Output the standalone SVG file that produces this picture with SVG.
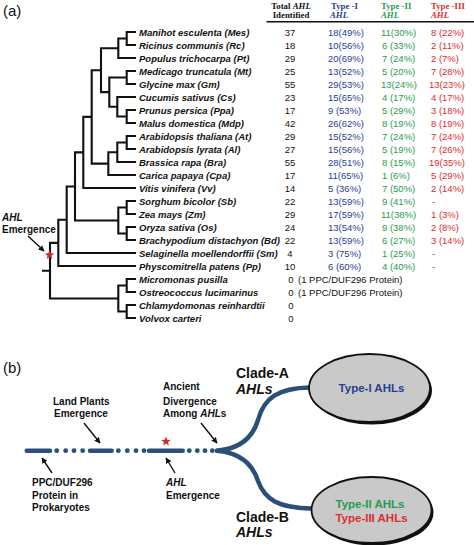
<svg xmlns="http://www.w3.org/2000/svg" width="474" height="545" viewBox="0 0 474 545">
<defs>
<style>
.sp{font-family:"Liberation Sans",Arial,sans-serif;font-size:9.5px;font-weight:bold;font-style:italic;fill:#111}
.v{font-family:"Liberation Sans",Arial,sans-serif;font-size:9.5px;fill:#111}
.tot{text-anchor:middle}
.b{fill:#2b3d8f}.g{fill:#1f9e4b}.r{fill:#dc2e2e}
.hd{font-family:"Liberation Serif","Times New Roman",serif;font-size:8.8px;font-weight:bold}
.it{font-style:italic}
.tree{fill:none;stroke:#111;stroke-width:2.1;stroke-linecap:square}
.lab{font-family:"Liberation Sans",Arial,sans-serif;font-size:10px;font-weight:bold;fill:#111}
.clade{font-family:"Liberation Sans",Arial,sans-serif;font-size:14px;font-weight:bold;fill:#111}
.ell{font-family:"Liberation Sans",Arial,sans-serif;font-size:11.5px;font-weight:bold;text-anchor:middle}
.pipe{fill:none;stroke:#2a4f78;stroke-width:4.5;stroke-linecap:round}
.arr{stroke:#111;stroke-width:1.4;fill:none}
.panel{font-family:"Liberation Sans",Arial,sans-serif;font-size:15px;fill:#111}
</style>
<marker id="ah" viewBox="0 0 10 10" refX="9" refY="5" markerWidth="6" markerHeight="6" orient="auto" markerUnits="userSpaceOnUse">
<path d="M0,0 L10,5 L0,10 z" fill="#111"/>
</marker>
<path id="star" d="M0,-5 L1.23,-1.7 L4.76,-1.55 L2,0.65 L2.94,4.05 L0,2.1 L-2.94,4.05 L-2,0.65 L-4.76,-1.55 L-1.23,-1.7 Z" fill="#d42a2a"/>
</defs>
<rect width="474" height="545" fill="#fff"/>

<text class="panel" x="3" y="16">(a)</text>

<g id="header">
<text class="hd" x="291" y="8.5" text-anchor="middle" fill="#111">Total <tspan class="it">AHL</tspan></text>
<text class="hd" x="291" y="17.5" text-anchor="middle" fill="#111">Identified</text>
<text class="hd b" x="331" y="8.5">Type -I</text>
<text class="hd b it" x="330" y="17.5">AHL</text>
<text class="hd g" x="381" y="8.5">Type -II</text>
<text class="hd g it" x="381" y="17.5">AHL</text>
<text class="hd r" x="431" y="8.5">Type -III</text>
<text class="hd r it" x="431" y="17.5">AHL</text>
<line x1="266.5" y1="21.7" x2="474" y2="21.7" stroke="#111" stroke-width="1.6"/>
</g>

<g id="tree-branches" class="tree-connectors">
<path class="tree" d="
M126.7,32 H135 M126.7,45 H135 M126.7,32 V45 M118.3,38.5 H126.7
M118.3,58 H135 M118.3,38.5 V58 M101,48.25 H118.3
M126.7,71 H135 M126.7,84 H135 M126.7,71 V84 M109.3,77.5 H126.7
M117.3,97 H135 M126.7,110 H135 M126.7,123 H135 M126.7,110 V123 M117.3,116.5 H126.7
M117.3,97 V116.5 M109.3,106.75 H117.3
M109.3,77.5 V106.75 M101,92.1 H109.3
M101,48.25 V92.1 M91.7,70.2 H101
M126.7,136 H135 M126.7,149 H135 M126.7,136 V149 M117.3,142.5 H126.7
M117.3,162 H135 M117.3,142.5 V162 M108.3,152.25 H117.3
M108.3,175 H135 M108.3,152.25 V175 M91.7,163.6 H108.3
M91.7,70.2 V163.6 M83.3,116.9 H91.7
M83.3,188 H135 M83.3,116.9 V188 M75,152.4 H83.3
M126.7,201 H135 M126.7,214 H135 M126.7,201 V214 M118.3,207.5 H126.7
M126.7,227 H135 M126.7,240 H135 M126.7,227 V240 M118.3,233.5 H126.7
M118.3,207.5 V233.5 M75,220.5 H118.3
M75,152.4 V220.5 M66.7,186.5 H75
M66.7,253 H135 M66.7,186.5 V253 M58.3,219.7 H66.7
M58.3,266 H135 M58.3,219.7 V266 M50,242.9 H58.3
M126.7,279 H135 M126.7,292 H135 M126.7,279 V292 M118.3,285.5 H126.7
M126.7,305 H135 M126.7,318 H135 M126.7,305 V318 M118.3,311.5 H126.7
M118.3,285.5 V311.5 M50,298.5 H118.3
M50,242.9 V298.5 M43,270.7 H50"/>
<line class="arr" x1="28" y1="236" x2="44" y2="251" marker-end="url(#ah)"/>
</g>

<g id="ahl-emergence-tree">
<text class="lab it" x="2" y="220.5">AHL</text>
<text class="lab" x="2" y="233">Emergence</text>
<use href="#star" x="49.5" y="255"/>
</g>

<g id="rows">
<g id="row-mes"><text class="sp" x="139" y="35.5">Manihot esculenta (Mes)</text><text class="v tot" x="290" y="35.5">37</text><text class="v b" x="328" y="35.5">18(49%)</text><text class="v g" x="381" y="35.5">11(30%)</text><text class="v r" x="431" y="35.5">8 (22%)</text></g>
<g id="row-rc"><text class="sp" x="139" y="48.5">Ricinus communis (Rc)</text><text class="v tot" x="290" y="48.5">18</text><text class="v b" x="328" y="48.5">10(56%)</text><text class="v g" x="382" y="48.5">6 (33%)</text><text class="v r" x="431" y="48.5">2 (11%)</text></g>
<g id="row-pt"><text class="sp" x="139" y="61.5">Populus trichocarpa (Pt)</text><text class="v tot" x="290" y="61.5">29</text><text class="v b" x="328" y="61.5">20(69%)</text><text class="v g" x="382" y="61.5">7 (24%)</text><text class="v r" x="431" y="61.5">2 (7%)</text></g>
<g id="row-mt"><text class="sp" x="139" y="74.5">Medicago truncatula (Mt)</text><text class="v tot" x="290" y="74.5">25</text><text class="v b" x="328" y="74.5">13(52%)</text><text class="v g" x="382" y="74.5">5 (20%)</text><text class="v r" x="431" y="74.5">7 (28%)</text></g>
<g id="row-gm"><text class="sp" x="139" y="87.5">Glycine max (Gm)</text><text class="v tot" x="290" y="87.5">55</text><text class="v b" x="328" y="87.5">29(53%)</text><text class="v g" x="381" y="87.5">13(24%)</text><text class="v r" x="429" y="87.5">13(23%)</text></g>
<g id="row-cs"><text class="sp" x="139" y="100.5">Cucumis sativus (Cs)</text><text class="v tot" x="290" y="100.5">23</text><text class="v b" x="328" y="100.5">15(65%)</text><text class="v g" x="382" y="100.5">4 (17%)</text><text class="v r" x="431" y="100.5">4 (17%)</text></g>
<g id="row-ppa"><text class="sp" x="139" y="113.5">Prunus persica (Ppa)</text><text class="v tot" x="290" y="113.5">17</text><text class="v b" x="328" y="113.5">9 (53%)</text><text class="v g" x="382" y="113.5">5 (29%)</text><text class="v r" x="431" y="113.5">3 (18%)</text></g>
<g id="row-mdp"><text class="sp" x="139" y="126.5">Malus domestica (Mdp)</text><text class="v tot" x="290" y="126.5">42</text><text class="v b" x="328" y="126.5">26(62%)</text><text class="v g" x="382" y="126.5">8 (19%)</text><text class="v r" x="431" y="126.5">8 (19%)</text></g>
<g id="row-at"><text class="sp" x="139" y="139.5">Arabidopsis thaliana (At)</text><text class="v tot" x="290" y="139.5">29</text><text class="v b" x="328" y="139.5">15(52%)</text><text class="v g" x="382" y="139.5">7 (24%)</text><text class="v r" x="431" y="139.5">7 (24%)</text></g>
<g id="row-al"><text class="sp" x="139" y="152.5">Arabidopsis lyrata (Al)</text><text class="v tot" x="290" y="152.5">27</text><text class="v b" x="328" y="152.5">15(56%)</text><text class="v g" x="382" y="152.5">5 (19%)</text><text class="v r" x="431" y="152.5">7 (26%)</text></g>
<g id="row-bra"><text class="sp" x="139" y="165.5">Brassica rapa (Bra)</text><text class="v tot" x="290" y="165.5">55</text><text class="v b" x="328" y="165.5">28(51%)</text><text class="v g" x="382" y="165.5">8 (15%)</text><text class="v r" x="429" y="165.5">19(35%)</text></g>
<g id="row-cpa"><text class="sp" x="139" y="178.5">Carica papaya (Cpa)</text><text class="v tot" x="290" y="178.5">17</text><text class="v b" x="328" y="178.5">11(65%)</text><text class="v g" x="382" y="178.5">1 (6%)</text><text class="v r" x="431" y="178.5">5 (29%)</text></g>
<g id="row-vv"><text class="sp" x="139" y="191.5">Vitis vinifera (Vv)</text><text class="v tot" x="290" y="191.5">14</text><text class="v b" x="328" y="191.5">5 (36%)</text><text class="v g" x="382" y="191.5">7 (50%)</text><text class="v r" x="431" y="191.5">2 (14%)</text></g>
<g id="row-sb"><text class="sp" x="139" y="204.5">Sorghum bicolor (Sb)</text><text class="v tot" x="290" y="204.5">22</text><text class="v b" x="328" y="204.5">13(59%)</text><text class="v g" x="382" y="204.5">9 (41%)</text><text class="v r" x="432" y="204.5">-</text></g>
<g id="row-zm"><text class="sp" x="139" y="217.5">Zea mays (Zm)</text><text class="v tot" x="290" y="217.5">29</text><text class="v b" x="328" y="217.5">17(59%)</text><text class="v g" x="381" y="217.5">11(38%)</text><text class="v r" x="431" y="217.5">1 (3%)</text></g>
<g id="row-os"><text class="sp" x="139" y="230.5">Oryza sativa (Os)</text><text class="v tot" x="290" y="230.5">24</text><text class="v b" x="328" y="230.5">13(54%)</text><text class="v g" x="382" y="230.5">9 (38%)</text><text class="v r" x="431" y="230.5">2 (8%)</text></g>
<g id="row-bd"><text class="sp" x="139" y="243.5">Brachypodium distachyon (Bd)</text><text class="v tot" x="290" y="243.5">22</text><text class="v b" x="328" y="243.5">13(59%)</text><text class="v g" x="382" y="243.5">6 (27%)</text><text class="v r" x="431" y="243.5">3 (14%)</text></g>
<g id="row-sm"><text class="sp" x="139" y="256.5">Selaginella moellendorffii (Sm)</text><text class="v tot" x="290" y="256.5">4</text><text class="v b" x="328" y="256.5">3 (75%)</text><text class="v g" x="382" y="256.5">1 (25%)</text><text class="v r" x="432" y="256.5">-</text></g>
<g id="row-pp"><text class="sp" x="139" y="269.5">Physcomitrella patens (Pp)</text><text class="v tot" x="290" y="269.5">10</text><text class="v b" x="328" y="269.5">6 (60%)</text><text class="v g" x="382" y="269.5">4 (40%)</text><text class="v r" x="432" y="269.5">-</text></g>
<g id="row-mic"><text class="sp" x="139" y="282.5">Micromonas pusilla</text><text class="v tot" x="291" y="282.5">0</text><text class="v" x="298" y="282.5">(1 PPC/DUF296 Protein)</text></g>
<g id="row-ost"><text class="sp" x="139" y="295.5">Ostreococcus lucimarinus</text><text class="v tot" x="291" y="295.5">0</text><text class="v" x="298" y="295.5">(1 PPC/DUF296 Protein)</text></g>
<g id="row-chl"><text class="sp" x="139" y="308.5">Chlamydomonas reinhardtii</text><text class="v tot" x="291" y="308.5">0</text></g>
<g id="row-vol"><text class="sp" x="139" y="321.5">Volvox carteri</text><text class="v tot" x="291" y="321.5">0</text></g>
</g>

<text class="panel" x="3" y="373">(b)</text>

<g id="connectors">
<path class="pipe" d="M26.7,450.7 H50 M90,450.7 H111.7 M149,450.7 H182.7"/>
<g fill="#2a4f78">
<circle cx="56.7" cy="450.7" r="2.4"/><circle cx="65.7" cy="450.7" r="2.4"/><circle cx="74" cy="450.7" r="2.4"/><circle cx="82.7" cy="450.7" r="2.4"/>
<circle cx="118.3" cy="450.7" r="2.4"/><circle cx="127.3" cy="450.7" r="2.4"/><circle cx="136" cy="450.7" r="2.4"/><circle cx="144" cy="450.7" r="2.4"/>
<circle cx="189.3" cy="450.7" r="2.4"/><circle cx="197.3" cy="450.7" r="2.4"/><circle cx="205" cy="450.7" r="2.4"/><circle cx="212.3" cy="450.7" r="2.4"/>
</g>
<path class="pipe" d="M217,450.7 C238,449 252,440 258,420 C264,398 278,388 310,387.5"/>
<path class="pipe" d="M217,450.7 C238,452.5 252,462 258,481 C265,500 279,508 312,508.5"/>
<line class="arr" x1="84" y1="423" x2="100" y2="443" marker-end="url(#ah)"/>
<line class="arr" x1="201" y1="423" x2="217" y2="443" marker-end="url(#ah)"/>
<line class="arr" x1="52" y1="473" x2="42" y2="458" marker-end="url(#ah)"/>
<line class="arr" x1="175" y1="473" x2="166" y2="458" marker-end="url(#ah)"/>
</g>

<g id="land-plants">
<text class="lab" x="53" y="404.5">Land Plants</text>
<text class="lab" x="54" y="417">Emergence</text>
</g>
<g id="ancient-divergence">
<text class="lab" x="163" y="390">Ancient</text>
<text class="lab" x="163" y="404.5">Divergence</text>
<text class="lab" x="163" y="417">Among <tspan class="it">AHL</tspan>s</text>
</g>
<g id="ppc-duf296">
<text class="lab" x="32" y="486">PPC/DUF296</text>
<text class="lab" x="32" y="498.5">Protein in</text>
<text class="lab" x="32" y="511">Prokaryotes</text>
</g>
<g id="ahl-emergence">
<use href="#star" x="166" y="441.5"/>
<text class="lab it" x="166" y="486">AHL</text>
<text class="lab" x="166" y="498.5">Emergence</text>
</g>

<g id="clade-a">
<text class="clade" x="236" y="378">Clade-A</text>
<text class="clade it" x="236" y="394">AHLs</text>
<ellipse cx="371.5" cy="390.5" rx="60.5" ry="34" fill="#111"/>
<ellipse cx="369.5" cy="388" rx="60.5" ry="34" fill="#c9c9c9" stroke="#111" stroke-width="1.8"/>
<text class="ell b" x="371.5" y="392">Type-I AHLs</text>
</g>

<g id="clade-b">
<text class="clade" x="236" y="521.5">Clade-B</text>
<text class="clade it" x="236" y="537">AHLs</text>
<ellipse cx="373.5" cy="512.5" rx="60" ry="33" fill="#111"/>
<ellipse cx="371.5" cy="510" rx="60" ry="33" fill="#c9c9c9" stroke="#111" stroke-width="1.8"/>
<text class="ell g" x="370" y="508">Type-II AHLs</text>
<text class="ell r" x="371.5" y="522">Type-III AHLs</text>
</g>
</svg>
